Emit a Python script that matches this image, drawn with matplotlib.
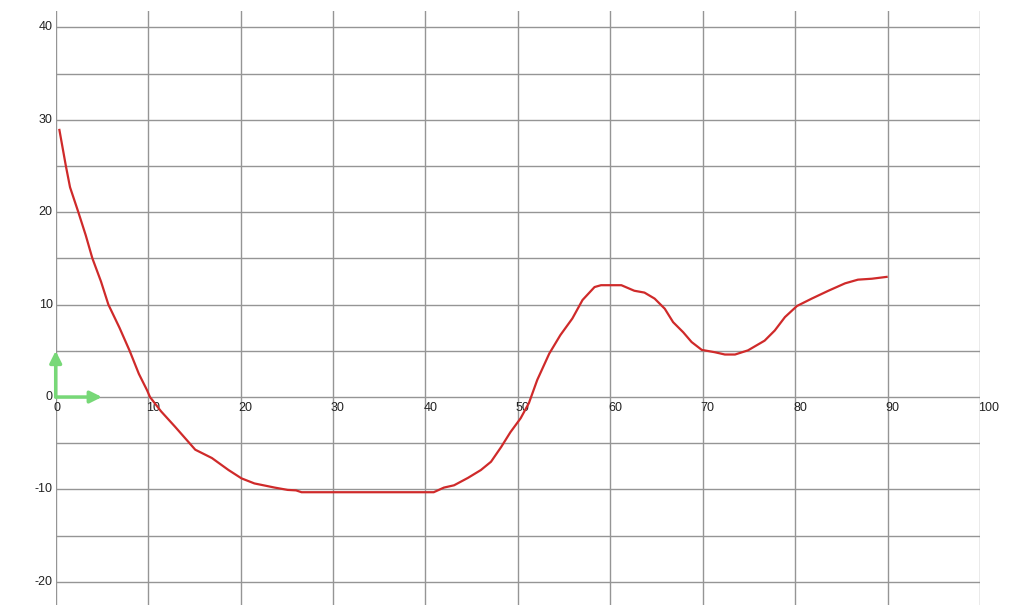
import matplotlib.pyplot as plt
from matplotlib.transforms import offset_copy

plt.rcParams['font.family'] = ['Liberation Sans', 'DejaVu Sans']

# curve
xs = [0.4, 1.1, 1.55, 2.45, 3.25, 3.97, 4.9, 5.7, 6.9, 8.0, 9.0, 9.9, 10.2, 11.4,
      12.9, 14.0, 15.1, 16.9, 18.7, 20.1, 21.5, 23.7, 25.1, 26.0, 26.6, 40.9,
      42.0, 43.1, 44.6, 46.0, 47.1, 48.2, 49.2, 50.3, 51.2, 52.1, 53.4, 54.6,
      55.9, 57.0, 58.3, 59.0, 61.2, 62.6, 63.7, 64.8, 65.9, 66.8, 67.9, 68.8,
      69.9, 71.3, 72.4, 73.5, 74.9, 76.7, 77.8, 78.9, 80.2, 81.8, 83.6, 85.4,
      86.8, 88.3, 89.9]
ys = [28.9, 25.0, 22.7, 20.0, 17.5, 15.0, 12.5, 10.0, 7.5, 5.0, 2.5, 0.7, 0.0, -1.55,
      -3.2, -4.45, -5.7, -6.6, -7.9, -8.8, -9.35, -9.8, -10.05, -10.1, -10.3, -10.3,
      -9.8, -9.55, -8.75, -7.9, -7.0, -5.4, -3.8, -2.3, -0.65, 1.85, 4.7, 6.7,
      8.5, 10.5, 11.9, 12.1, 12.1, 11.5, 11.3, 10.65, 9.55, 8.1, 7.0, 5.95,
      5.1, 4.85, 4.6, 4.6, 5.05, 6.1, 7.2, 8.65, 9.85, 10.65, 11.5, 12.3,
      12.7, 12.8, 13.0]

x_ticks = [0, 10, 20, 30, 40, 50, 60, 70, 80, 90, 100]
x_grid = x_ticks
y_ticks = [-20, -10, 0, 10, 20, 30, 40]
y_grid = [-20, -15, -10, -5, 0, 5, 10, 15, 20, 25, 30, 35, 40]

fig = plt.figure(figsize=(10.24, 6.14), dpi=100)
ax = fig.add_axes([0.0544, 0.0147, 0.9026, 0.9674])
ax.set_xlim(0, 100)
ax.set_ylim(-22.5, 41.77)

for s in ax.spines.values():
    s.set_visible(False)
ax.set_xticks(x_grid)
ax.set_yticks(y_grid)
ax.tick_params(length=0, labelbottom=False, labelleft=False)
ax.grid(True, color='#959595', lw=1.0)
ax.set_axisbelow(True)

# tick labels sit along the zero lines
tx = offset_copy(ax.transData, fig=fig, x=-2, y=-5, units='dots')
for t in x_ticks:
    ax.text(t, 0, str(t), transform=tx, ha='left', va='top', fontsize=9, color='#222222')
ty = offset_copy(ax.transData, fig=fig, x=-3, y=0, units='dots')
for t in y_ticks:
    ax.text(0, t, str(t), transform=ty, ha='right', va='center', fontsize=9, color='#222222')

# green origin arrows
for dx, dy in [(5, 0), (0, 5)]:
    ax.annotate('', xy=(dx, dy), xytext=(0, 0),
                arrowprops=dict(arrowstyle='-|>,head_width=0.35,head_length=0.7',
                                color='#77d877', lw=2.5, shrinkA=0, shrinkB=0))

ax.plot(xs, ys, color='#cf2a2a', lw=1.6, zorder=3)

fig.savefig('out.png', dpi=100)
